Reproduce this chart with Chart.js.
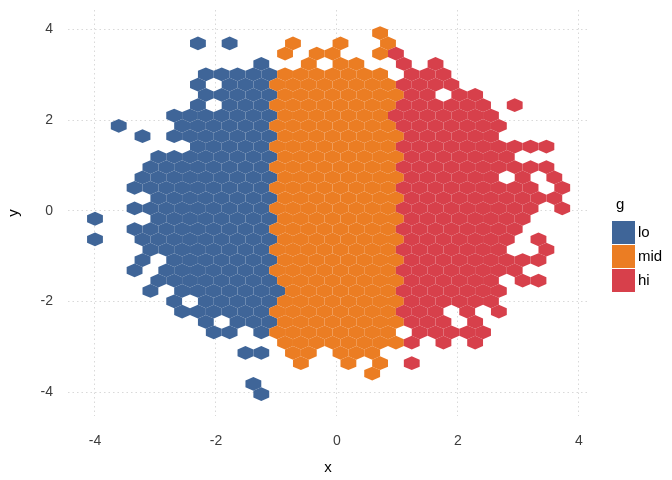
<!DOCTYPE html>
<html>
<head>
<meta charset="utf-8">
<script src="https://cdn.jsdelivr.net/npm/chart.js@4"></script>
<style>
  html, body { margin: 0; padding: 0; background: #ffffff; }
  #wrap { width: 672px; height: 480px; }
</style>
</head>
<body>
<div id="wrap"><canvas id="hexChart" width="672" height="480"></canvas></div>
<script>
// ------------------------------
// Data
// ------------------------------

// groups, and the letter each one uses in the row maps
const groups = ["lo", "mid", "hi"];
const codes = ["l", "m", "h"];

// hex bin grid in data units
const binX0 = -4.0;     // centre of column 0
const binDX = 0.2618;   // column step
const binY0 = 3.918;    // centre of row 0
const binDY = 0.2274;   // row step

// one string per hex row, top to bottom, 31 columns each
// odd rows sit half a column to the right
const hexRows = [
    "..................m............",
    "......l.l...m..m..m............",
    "............m.mm..mh...........",
    "..........l..m.mm..h.h.........",
    ".......lllllmmmmmmm.hhh........",
    "......l.lllmmmmmmmmhhhh........",
    ".......lllllmmmmmmmmhh.hh......",
    "......l.lllmmmmmmmmhhhhhh.h....",
    ".....lllllllmmmmmmmhhhhhhh.....",
    ".l...llllllmmmmmmmmhhhhhhh.....",
    "...l.lllllllmmmmmmmmhhhhhh.....",
    "......lllllmmmmmmmmhhhhhhhhhh..",
    "....llllllllmmmmmmmmhhhhhhh....",
    "...llllllllmmmmmmmmhhhhhhhhhh..",
    "...lllllllllmmmmmmmmhhhhhh.h.h.",
    "..lllllllllmmmmmmmmhhhhhhhhh.h.",
    "....llllllllmmmmmmmmhhhhhhhhhh.",
    "..lllllllllmmmmmmmmhhhhhhhhh.h.",
    "l...llllllllmmmmmmmmhhhhhhhh...",
    "..lllllllllmmmmmmmmhhhhhhhh....",
    "l..lllllllllmmmmmmmmhhhhhhh.h..",
    "...llllllllmmmmmmmmhhhhhhh..h..",
    "...l.lllllllmmmmmmmmhhhhhhhhh..",
    "..l.lllllllmmmmmmmmhhhhhhhh....",
    "....llllllllmmmmmmmmhhhhhh.hh..",
    "...l.lllllllmmmmmmmhhhhhhh.....",
    ".....l.lllllmmmmmmmmhhhhhh.....",
    ".....llllllmmmmmmmmhhh.h.h.....",
    ".......l.lllmmmmmmmmhhh.h......",
    ".......ll.lmmmmmmmm.hhhhh......",
    "............mmmmmmmmh.h.h......",
    ".........ll.mm.mmm.............",
    ".............m..m.m.h..........",
    ".................m.............",
    "..........l....................",
    "..........l...................."
];

const xTicks = [-4, -2, 0, 2, 4];
const yTicks = [-4, -2, 0, 2, 4];

// ------------------------------
// Style
// ------------------------------

const FONT = "'Liberation Sans', Arial, sans-serif";
const fills = ["#3f6598", "#eb7d23", "#d7404b"];

function cellsFor(code) {
    const pts = [];
    hexRows.forEach((row, r) => {
        for (let c = 0; c < row.length; c++) {
            if (row[c] === code) {
                pts.push({ x: binX0 + (c + (r % 2) * 0.5) * binDX, y: binY0 - r * binDY });
            }
        }
    });
    return pts;
}

// hexagons drawn through the chart's own scales
const hexPlugin = {
    id: "hexPlugin",
    beforeDatasetsDraw(chart) {
        const { ctx, chartArea, scales } = chart;
        const xs = scales.x, ys = scales.y;
        const hw = binDX / 2;
        const hh = binDY * 2 / 3;
        ctx.save();
        ctx.beginPath();
        ctx.rect(chartArea.left, chartArea.top, chartArea.width, chartArea.height);
        ctx.clip();
        chart.data.datasets.forEach(ds => {
            ctx.fillStyle = ds.backgroundColor;
            ds.data.forEach(p => {
                ctx.beginPath();
                ctx.moveTo(xs.getPixelForValue(p.x), ys.getPixelForValue(p.y + hh));
                ctx.lineTo(xs.getPixelForValue(p.x + hw), ys.getPixelForValue(p.y + hh / 2));
                ctx.lineTo(xs.getPixelForValue(p.x + hw), ys.getPixelForValue(p.y - hh / 2));
                ctx.lineTo(xs.getPixelForValue(p.x), ys.getPixelForValue(p.y - hh));
                ctx.lineTo(xs.getPixelForValue(p.x - hw), ys.getPixelForValue(p.y - hh / 2));
                ctx.lineTo(xs.getPixelForValue(p.x - hw), ys.getPixelForValue(p.y + hh / 2));
                ctx.closePath();
                ctx.fill();
            });
        });
        ctx.restore();
    }
};

// legend on the right, ggplot style
const legendPlugin = {
    id: "legendPlugin",
    afterDraw(chart) {
        const ctx = chart.ctx;
        ctx.save();
        ctx.fillStyle = "#000000";
        ctx.font = "15px " + FONT;
        ctx.textAlign = "left";
        ctx.textBaseline = "middle";
        ctx.fillText("g", 616, 205);
        chart.data.datasets.forEach((ds, i) => {
            const top = 221 + i * 24;
            ctx.fillStyle = ds.backgroundColor;
            ctx.fillRect(612, top, 23, 23);
            ctx.fillStyle = "#000000";
            ctx.fillText(ds.label, 638, top + 12);
        });
        ctx.restore();
    }
};

const axisBase = {
    type: "linear",
    grid: { color: "#d9d9d9", lineWidth: 1, drawTicks: false },
    border: { display: false, dash: [1.5, 3] },
    ticks: { color: "#3d3d3d", font: { family: FONT, size: 14 } }
};

new Chart(document.getElementById("hexChart"), {
    type: "scatter",
    data: {
        datasets: groups.map((g, i) => ({
            label: g,
            data: cellsFor(codes[i]),
            backgroundColor: fills[i],
            pointRadius: 0,
            pointHoverRadius: 0
        }))
    },
    options: {
        responsive: false,
        animation: false,
        events: [],
        layout: { padding: { left: 0, right: 84, top: 10, bottom: 0 } },
        scales: {
            x: {
                ...axisBase,
                min: -4.446,
                max: 4.149,
                afterBuildTicks: s => { s.ticks = xTicks.map(v => ({ value: v })); },
                afterFit: s => { s.height = 64; s.paddingLeft = 0; s.paddingRight = 0; },
                ticks: { ...axisBase.ticks, padding: 17 },
                title: { display: true, text: "x", color: "#000000", font: { family: FONT, size: 15 }, padding: { top: 0, bottom: 3 } }
            },
            y: {
                ...axisBase,
                min: -4.522,
                max: 4.425,
                afterBuildTicks: s => { s.ticks = yTicks.map(v => ({ value: v })); },
                afterFit: s => { s.width = 68; s.paddingTop = 0; s.paddingBottom = 0; },
                ticks: { ...axisBase.ticks, padding: 15 },
                title: { display: true, text: "y", color: "#000000", font: { family: FONT, size: 15 }, padding: { top: 5, bottom: 0 } }
            }
        },
        plugins: {
            legend: { display: false },
            tooltip: { enabled: false }
        }
    },
    plugins: [hexPlugin, legendPlugin]
});
</script>
</body>
</html>
